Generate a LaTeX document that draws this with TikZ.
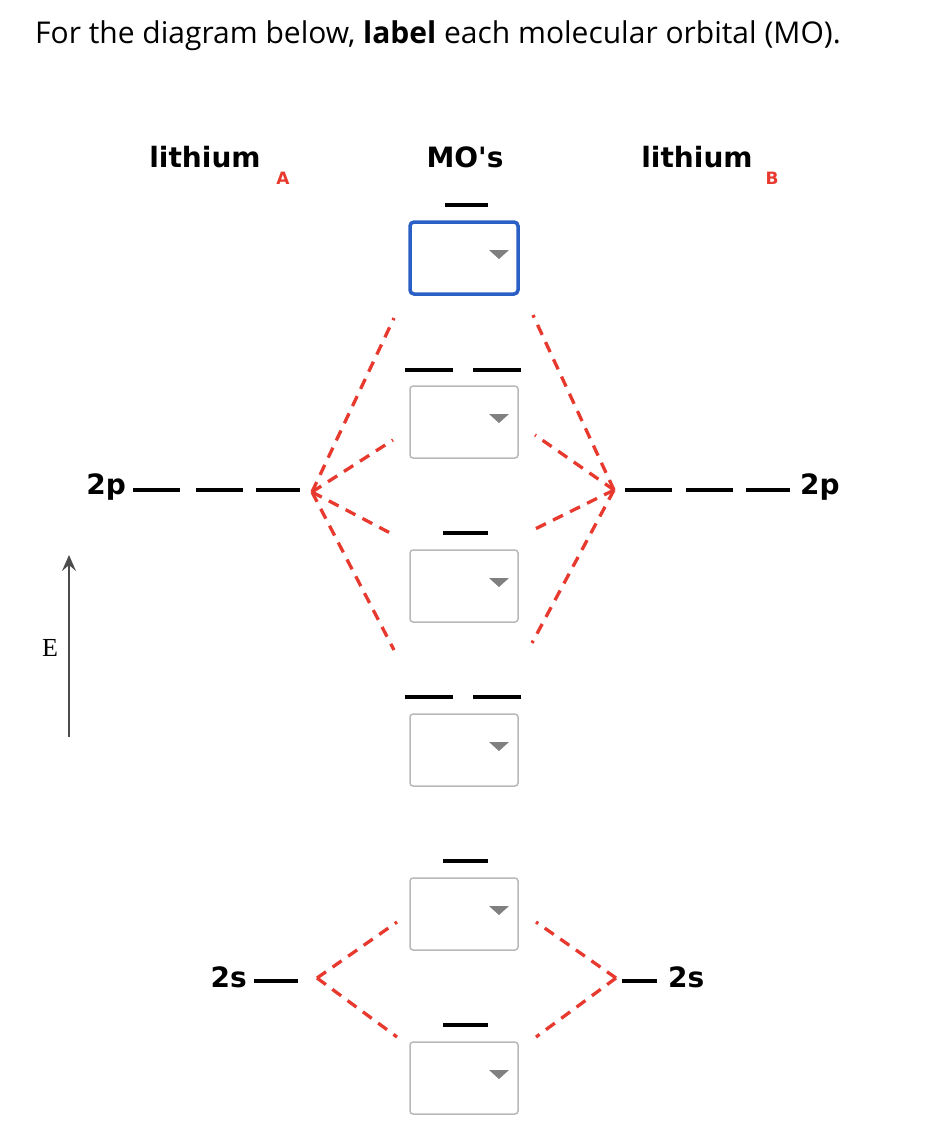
\documentclass[tikz,border=0pt]{standalone}
\usepackage{fontspec}
\setmainfont{Open Sans}
\newfontfamily\lbl{DejaVu Sans}
\newfontfamily\serif{Liberation Serif}
\usetikzlibrary{arrows.meta}
\definecolor{redd}{HTML}{E8392F}
\definecolor{blu}{HTML}{2A5FC6}
\tikzset{
 lvl/.style={line width=3.5pt,black},
 conn/.style={redd,line width=3.3pt,dash pattern=on 11pt off 8pt},
 bx/.style={draw=gray!55,line width=1.5pt,rounded corners=3pt},
 lab/.style={font=\lbl\bfseries\fontsize{28}{32}\selectfont,inner sep=0},
 sub/.style={font=\lbl\bfseries\fontsize{17}{19}\selectfont,text=redd,inner sep=0},
}
\begin{document}
\begin{tikzpicture}[x=1pt,y=-1pt]
\useasboundingbox (0,0) rectangle (944,1144);
\node[anchor=west,inner sep=0,font=\fontsize{30}{34}\selectfont] (title) at (35,36) {For the diagram below, \textbf{label} each molecular orbital (MO).};
\node[lab] (la) at (205,157) {lithium};
\node[sub] (sa) at (283,178) {A};
\node[lab] (mo) at (465,157) {MO's};
\node[lab] (lb) at (697,157) {lithium};
\node[sub] (sb) at (772,178) {B};
% MO levels
\foreach \n/\xa/\xb/\y in {m1/445/488/205, m2a/405/453/370, m2b/473/521/370, m3/443/488/533, m4a/405/453/697, m4b/473/521/697, m5/443/488/861, m6/443/488/1025}
  \draw[lvl] (\xa,\y) coordinate (\n l) -- (\xb,\y) coordinate (\n r);
% boxes
\foreach \n/\y in {b1/222, b2/386, b3/550, b4/714, b5/878, b6/1042}{
  \draw[bx] (410,\y) rectangle (518,\y+72);
  \coordinate (\n) at (464,\y+36);
  \fill[gray] (489,\y+28) -- (509,\y+28) -- (499,\y+37) -- cycle;
}
\draw[blu,line width=3.5pt,rounded corners=4pt] (410,222) rectangle (518,294);
% 2p
\node[lab,anchor=east] (pa) at (126,487) {2p};
\node[lab,anchor=west] (pb) at (800,487) {2p};
\foreach \n/\xa/\xb in {pa1/133/180, pa2/196/243, pa3/256/300, pb1/625/672, pb2/686/733, pb3/746/790}
  \draw[lvl] (\xa,490) coordinate (\n l) -- (\xb,490) coordinate (\n r);
% 2s
\node[lab,anchor=east] (sla) at (247,977) {2s};
\node[lab,anchor=west] (slb) at (668,977) {2s};
\draw[lvl] (254,981) coordinate (sal) -- (298,981) coordinate (sar);
\draw[lvl] (622,981) coordinate (sbl) -- (657,981) coordinate (sbr);
% connectors
\coordinate (cl) at (312,492);
\coordinate (cr) at (614,490);
\foreach \p in {(394,318),(393,440),(394,535),(394,650)} \draw[conn] (cl) -- \p;
\foreach \p in {(533,315),(535,435),(533,530),(532,643)} \draw[conn] (cr) -- \p;
\coordinate (sl) at (317,978);
\coordinate (sr) at (616,978);
\foreach \p in {(397,922),(397,1037)} \draw[conn] (sl) -- \p;
\foreach \p in {(536,922),(536,1037)} \draw[conn] (sr) -- \p;
% E axis
\coordinate (e0) at (69,737);
\coordinate (e1) at (69,555);
\draw[line width=2pt,black!70,-{Stealth[length=16pt,width=14pt,inset=6pt]}] (e0) -- (e1);
\node[font=\serif\fontsize{26}{28}\selectfont,inner sep=0] (E) at (50,648) {E};
\end{tikzpicture}
\end{document}
